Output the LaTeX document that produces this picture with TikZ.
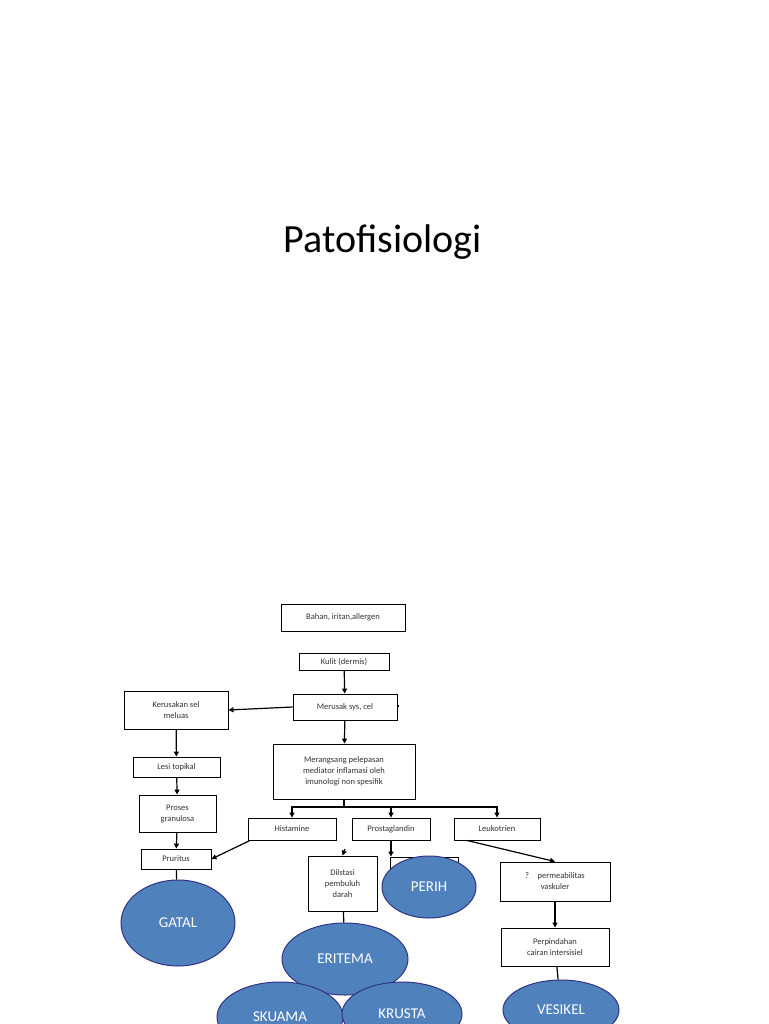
\documentclass[tikz,border=0pt]{standalone}
\usepackage{fontspec}
\setmainfont{Carlito}
\usetikzlibrary{arrows.meta,shapes.geometric}
\begin{document}
\begin{tikzpicture}[x=1pt,y=-1pt,
  bx/.style={draw,fill=white,line width=0.9pt,align=center,inner sep=0pt,font=\fontsize{8.5}{11}\selectfont,text=black!80},
  el/.style={ellipse,draw=blue!40!black!80,fill={rgb,255:red,79;green,129;blue,189},line width=1pt,text=white,font=\fontsize{15}{15}\selectfont,inner sep=0pt},
  ar/.style={-{Triangle[length=5pt,width=5pt]},line width=1.2pt},
  ln/.style={line width=1.2pt}]
\useasboundingbox (0,0) rectangle (768,1024);
\node[font=\fontsize{40}{40}\selectfont] (title) at (383,242) {Patofisiologi};
\newcommand{\bxat}[5]{\node[bx,minimum width=#3-#2,minimum height=#5-#4] (#1) at ({(#2+#3)/2},{(#4+#5)/2})}
\bxat{bahan}{281}{405}{604}{631}{Bahan, iritan,allergen};
\bxat{kulit}{299}{389}{653}{670}{Kulit (dermis)};
\bxat{merusak}{293}{397}{694}{720}{Merusak sys, cel};
\bxat{kerus}{124}{228}{691}{729}{Kerusakan sel\\meluas};
\bxat{lesi}{133}{220}{757}{777}{Lesi topikal};
\bxat{proses}{139}{216}{795}{832}{Proses\\granulosa};
\bxat{prur}{141}{211}{849}{869}{Pruritus};
\bxat{meran}{273}{415}{744}{799}{Merangsang pelepasan\\mediator inflamasi oleh\\imunologi non spesifik};
\bxat{hist}{248}{336}{818}{840}{Histamine};
\bxat{prost}{352}{430}{818}{840}{Prostaglandin};
\bxat{leuk}{454}{540}{818}{840}{Leukotrien};
\bxat{dil}{308}{377}{856}{911}{Dilstasi\\pembuluh\\darah};
\bxat{hid}{390}{458}{857}{885}{};
\bxat{perm}{500}{610}{862}{901}{?\quad permeabilitas\\vaskuler};
\bxat{perp}{501}{609}{928}{966}{Perpindahan\\cairan intersisiel};
\draw[ar] (kulit) -- (merusak);
\draw[ar] (merusak.west) -- (kerus.east);
\draw[ar] (merusak) -- (meran);
\draw[ar] (kerus) -- (lesi);
\draw[ar] (lesi) -- (proses);
\draw[ar] (proses) -- (prur);
\coordinate (split) at (344,807);
\draw[ln] (meran.south) -- (split);
\draw[ar] (split) -| (hist.north);
\draw[ar] (split) -| (prost.north);
\draw[ar] (split) -| (leuk.north);
\draw[ar] (hist.south) ++(-42,0) coordinate (hs) (hs) -- (prur.east);
\coordinate (dtop) at (345,849);
\draw[ar] (dtop) -- (dil.north);
\draw[ar] (prost.south) -- (hid.north-|prost.south);
\draw[ar] (leuk.south) ++(-30,0) coordinate (ls) (ls) -- (perm.north);
\draw[ar] (perm) -- (perp);
\coordinate (tick) at (399,706);
\draw[ln] (merusak.east|-tick) -- (tick);
\node[el,minimum width=114,minimum height=86] (gatal) at (178,923) {GATAL};
\node[el,minimum width=94,minimum height=62] (perih) at (429,887) {PERIH};
\node[el,minimum width=126,minimum height=72] (erit) at (345,959) {ERITEMA};
\node[el,minimum width=126,minimum height=70] (skua) at (280,1017) {SKUAMA};
\node[el,minimum width=120,minimum height=64] (krus) at (402,1014) {KRUSTA};
\node[el,minimum width=116,minimum height=60] (vesi) at (561,1010) {VESIKEL};
\draw[ln] (prur) -- (gatal);
\draw[ln] (dil) -- (erit);
\draw[ln] (perp) -- (vesi);
\end{tikzpicture}
\end{document}
